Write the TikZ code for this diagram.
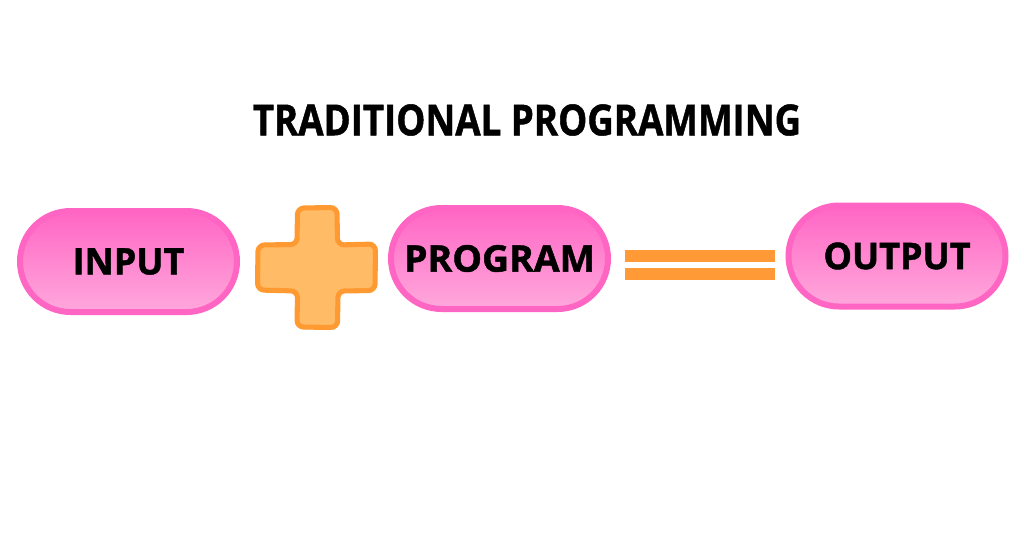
\documentclass[tikz,border=0pt]{standalone}
\usepackage{fontspec}
\setmainfont{Open Sans}[BoldFeatures={FakeBold=1.2}]
\usetikzlibrary{shapes.misc}
\definecolor{pillpink}{HTML}{FF66C4}
\definecolor{pilllight}{HTML}{FFA8DC}
\definecolor{plusfill}{HTML}{FFBB66}
\definecolor{plusedge}{HTML}{FF9A33}
\definecolor{equalsorange}{HTML}{FF9A36}
\newcommand{\narrow}[2]{\scalebox{#1}[1]{#2}}
\tikzset{
  pill/.style={rounded rectangle, draw=pillpink, line width=4.5pt,
    top color=pillpink, middle color=pillpink, bottom color=pilllight,
    minimum width=162.75pt, minimum height=75.75pt, inner sep=0pt,
    font=\fontsize{27.5}{30}\selectfont\bfseries},
  title/.style={font=\fontsize{32}{36}\selectfont\bfseries}
}
\begin{document}
\begin{tikzpicture}[x=0.75pt, y=-0.75pt]
  \useasboundingbox[fill=white] (0, 0) rectangle (1024, 536);
  \node[title] (heading) at (527, 120) {\narrow{0.86}{TRADITIONAL PROGRAMMING}};
  % the three pills
  \node[pill] (input) at (128.5, 261.5) {\narrow{0.98}{INPUT}};
  \node[pill] (program) at (499.5, 258.5) {\narrow{1.02}{PROGRAM}};
  \node[pill] (output) at (897, 256) {\narrow{0.98}{OUTPUT}};
  % plus sign
  \draw[plusedge, fill=plusfill, line width=3.8pt, rounded corners=5pt]
    (297.5, 208) -- (337, 207.5) -- (337.5, 245) -- (375.5, 244) -- (375, 290.5)
    -- (338, 291) -- (337.5, 327.5) -- (297, 327) -- (297.5, 291) -- (257.5, 290)
    -- (258, 245) -- (297, 244.5) -- cycle;
  % equals sign
  \fill[equalsorange] (625, 250) rectangle (775, 262);
  \fill[equalsorange] (625, 268) rectangle (775, 279.5);
\end{tikzpicture}
\end{document}
